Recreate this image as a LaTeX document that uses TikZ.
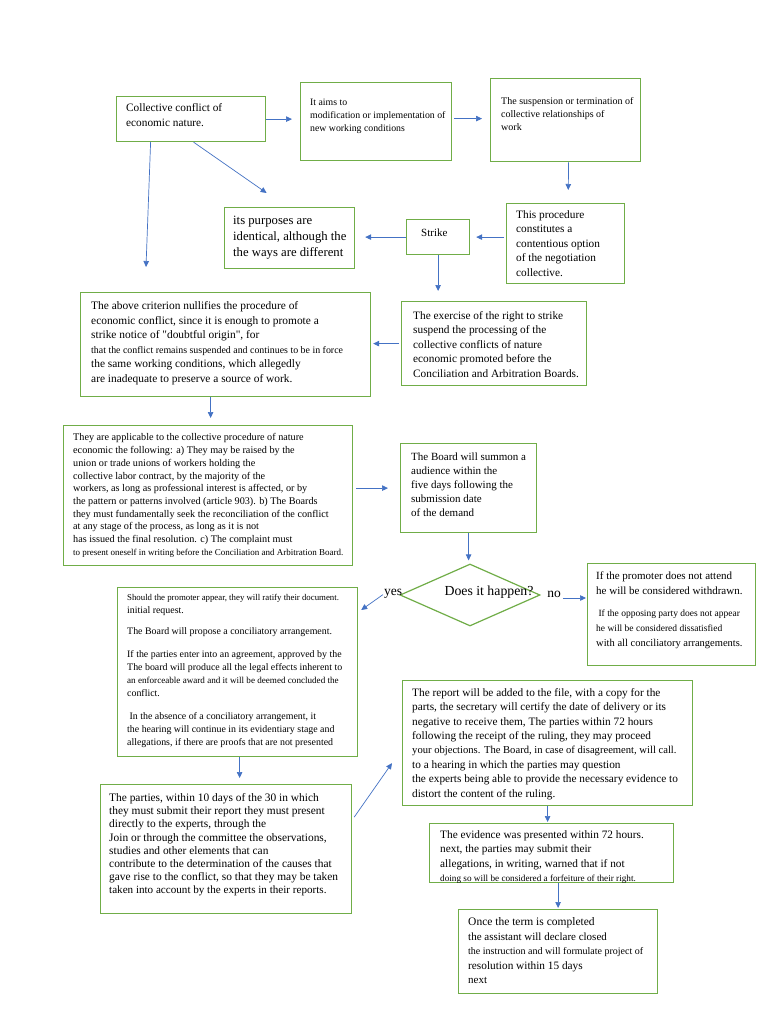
\documentclass[tikz,border=0pt]{standalone}
\usepackage{fontspec}
\setmainfont{Liberation Serif}[Ligatures=TeXOff]
\usetikzlibrary{arrows.meta,shapes.geometric,calc}
\definecolor{boxgreen}{RGB}{112,173,71}
\definecolor{arrblue}{RGB}{68,114,196}
\newcommand\myfs[2]{\fontsize{#1}{#2}\selectfont}
\begin{document}
\begin{tikzpicture}[x=1pt,y=-1pt,
  box/.style={draw=boxgreen, line width=1.2pt, rectangle, inner sep=0pt, anchor=north west},
  txt/.style={anchor=north west, inner sep=0pt, align=left, text=black},
  lbl/.style={inner sep=0pt, text=black},
  arr/.style={draw=arrblue, line width=0.7pt, -{Triangle[length=6pt,width=5.5pt]}},
]
\fill[white] (0,0) rectangle (768,1024);
\useasboundingbox (0,0) rectangle (768,1024);

% boxes
\node[box, minimum width=149pt, minimum height=45pt] (b1) at (116,96) {};
\node[box, minimum width=151pt, minimum height=78pt] (b2) at (300,82) {};
\node[box, minimum width=150pt, minimum height=83pt] (b3) at (490,78) {};
\node[box, minimum width=118pt, minimum height=80pt] (b4) at (506,203) {};
\node[box, minimum width=63pt, minimum height=35pt] (strike) at (406,219) {};
\node[box, minimum width=130pt, minimum height=61pt] (purp) at (224,207) {};
\node[box, minimum width=290pt, minimum height=104pt] (above) at (80,292) {};
\node[box, minimum width=185pt, minimum height=84pt] (exer) at (401,301) {};
\node[box, minimum width=289pt, minimum height=140pt] (appl) at (63,425) {};
\node[box, minimum width=136pt, minimum height=89pt] (board) at (400,443) {};
\node[draw=boxgreen, line width=1.2pt, diamond, minimum width=140pt, minimum height=62pt, inner sep=0pt] (dia) at (470,595) {};
\node[box, minimum width=168pt, minimum height=102pt] (prom) at (587,563) {};
\node[box, minimum width=240pt, minimum height=169pt] (should) at (117,587) {};
\node[box, minimum width=251pt, minimum height=129pt] (parties) at (100,784) {};
\node[box, minimum width=290pt, minimum height=125pt] (report) at (402,680) {};
\node[box, minimum width=244pt, minimum height=59pt] (evid) at (429,823) {};
\node[box, minimum width=199pt, minimum height=84pt] (once) at (458,909) {};

% texts
\node[txt, font=\myfs{11.3}{15}] (t1) at (126,103) {Collective conflict of\\economic nature.};
\node[txt, font=\myfs{9.8}{13}] (t2) at (310,98.7) {It aims to\\modification or implementation of\\new working conditions};
\node[txt, font=\myfs{10}{13}] (t3) at (501,97.7) {The suspension or termination of\\collective relationships of\\work};
\node[txt, font=\myfs{11.3}{14.5}] (t4) at (516,210.4) {This procedure\\constitutes a\\contentious option\\of the negotiation\\collective.};
\node[txt, font=\myfs{11}{14}] (tstrike) at (421,228.4) {Strike};
\node[txt, font=\myfs{12.7}{16}] (tpurp) at (233,215.8) {its purposes are\\identical, although the\\the ways are different};
\node[txt, font=\myfs{11.4}{14.6}] (tabove) at (91,301.2) {The above criterion nullifies the procedure of\\economic conflict, since it is enough to promote a\\strike notice of "doubtful origin", for\\{\myfs{9.9}{14.6}that the conflict remains suspended and continues to be in force}\\the same working conditions, which allegedly\\are inadequate to preserve a source of work.};
\node[txt, font=\myfs{11.3}{14.5}] (texer) at (413,311.2) {The exercise of the right to strike\\suspend the processing of the\\collective conflicts of nature\\economic promoted before the\\Conciliation and Arbitration Boards.};
\node[txt, font=\myfs{10.2}{12.7}] (tappl) at (73,433.6) {They are applicable to the collective procedure of nature\\economic the following: a) They may be raised by the\\union or trade unions of workers holding the\\collective labor contract, by the majority of the\\workers, as long as professional interest is affected, or by\\the pattern or patterns involved (article 903). b) The Boards\\they must fundamentally seek the reconciliation of the conflict\\at any stage of the process, as long as it is not\\has issued the final resolution. c) The complaint must\\{\myfs{9}{12.7}to present oneself in writing before the Conciliation and Arbitration Board.}};
\node[txt, font=\myfs{11}{14}] (tboard) at (411,452.4) {The Board will summon a\\audience within the\\five days following the\\submission date\\of the demand};
\node[lbl, font=\myfs{13.8}{16}] (dq) at (489,592) {Does it happen?};
\node[lbl, font=\myfs{13.5}{16}] (yes) at (393,594) {yes};
\node[lbl, font=\myfs{13.5}{16}] (no) at (554,594) {no};
\node[txt, font=\myfs{11}{15}] (tprom) at (596,571.4) {If the promoter does not attend\\he will be considered withdrawn.\\[7pt]{\myfs{9.5}{15}\ If the opposing party does not appear}\\{\myfs{9.5}{15}he will be considered dissatisfied}\\{\myfs{10.5}{14.5}with all conciliatory arrangements.}};
\node[txt, font=\myfs{9.9}{13}] (tshould) at (127,594) {{\myfs{8.8}{13.5}Should the promoter appear, they will ratify their document.}\\initial request.\\[8pt]The Board will propose a conciliatory arrangement.\\[10pt]If the parties enter into an agreement, approved by the\\The board will produce all the legal effects inherent to\\{\myfs{9.1}{13}an enforceable award and it will be deemed concluded the}\\conflict.\\[10pt]\ In the absence of a conciliatory arrangement, it\\the hearing will continue in its evidentiary stage and\\allegations, if there are proofs that are not presented};
\node[txt, font=\myfs{11.4}{13.2}] (tparties) at (109,793.2) {The parties, within 10 days of the 30 in which\\they must submit their report they must present\\directly to the experts, through the\\Join or through the committee the observations,\\studies and other elements that can\\contribute to the determination of the causes that\\gave rise to the conflict, so that they may be taken\\{\myfs{11.1}{13.2}taken into account by the experts in their reports.}};
\node[txt, font=\myfs{11.3}{14.4}] (treport) at (412,688.2) {The report will be added to the file, with a copy for the\\parts, the secretary will certify the date of delivery or its\\negative to receive them, The parties within 72 hours\\following the receipt of the ruling, they may proceed\\{\myfs{10.6}{14.4}your objections. The Board, in case of disagreement, will call.}\\to a hearing in which the parties may question\\the experts being able to provide the necessary evidence to\\distort the content of the ruling.};
\node[txt, font=\myfs{11.3}{14.5}] (tevid) at (440,830.2) {The evidence was presented within 72 hours.\\next, the parties may submit their\\allegations, in writing, warned that if not\\{\myfs{9.2}{14}doing so will be considered a forfeiture of their right.}};
\node[txt, font=\myfs{11}{14.5}] (tonce) at (468,917.4) {{\myfs{11.5}{14.5}Once the term is completed}\\the assistant will declare closed\\{\myfs{10}{14.5}the instruction and will formulate project of}\\{\myfs{11.3}{15}resolution within 15 days}\\next};

\coordinate (c1) at (146,267);

% connectors
\draw[arr, shorten >=8pt] (b1.east) -- (b1.east -| b2.west);
\draw[arr, shorten <=2pt, shorten >=8pt] ($(b2.east)+(0,-3)$) -- ($(b2.east -| b3.west)+(0,-3)$);
\draw[arr, shorten >=13pt] ($(b3.south)+(3,0)$) -- ($(b4.north)+(2.5,0)$);
\draw[arr, shorten <=2pt, shorten >=6pt] (b4.west |- strike.east) -- (strike.east);
\draw[arr, shorten >=10pt] (strike.west) -- (strike.west -| purp.east);
\draw[arr] ($(b1.south)+(2.5,0)$) -- ($(purp.north)+(-23,-14)$);
\draw[arr] ($(b1.south)+(-40.5,0)$) -- (c1);
\draw[arr, shorten >=10pt] (strike.south) -- (strike.south |- exer.north);
\draw[arr, shorten <=2pt, shorten >=2pt] (exer.west) -- (exer.west -| above.east);
\draw[arr, shorten >=7pt] ($(above.south)+(-15,0)$) -- ($(appl.north)+(2.5,0)$);
\draw[arr, shorten <=3pt, shorten >=12pt] (board.west -| appl.east) -- (board.west);
\draw[arr, shorten >=3pt] (board.south) -- (board.south |- dia.north);
\draw[arr, shorten <=2pt, shorten >=1pt] ($(no.east)+(0,4)$) -- ($(no.east -| prom.west)+(0,4)$);
\draw[arr, shorten <=1pt] (yes.west) -- ($(should.north east)+(3,23)$);
\draw[arr, shorten >=6pt] ($(should.south)+(2,0)$) -- ($(should.south |- parties.north)+(2,0)$);
\draw[arr] ($(parties.east)+(2,-32)$) -- ($(report.west)+(-10,20)$);
\draw[arr, shorten >=1pt] (report.south) -- (report.south |- evid.north);
\draw[arr, shorten >=1pt] (once.north |- evid.south) -- (once.north);
\end{tikzpicture}
\end{document}
